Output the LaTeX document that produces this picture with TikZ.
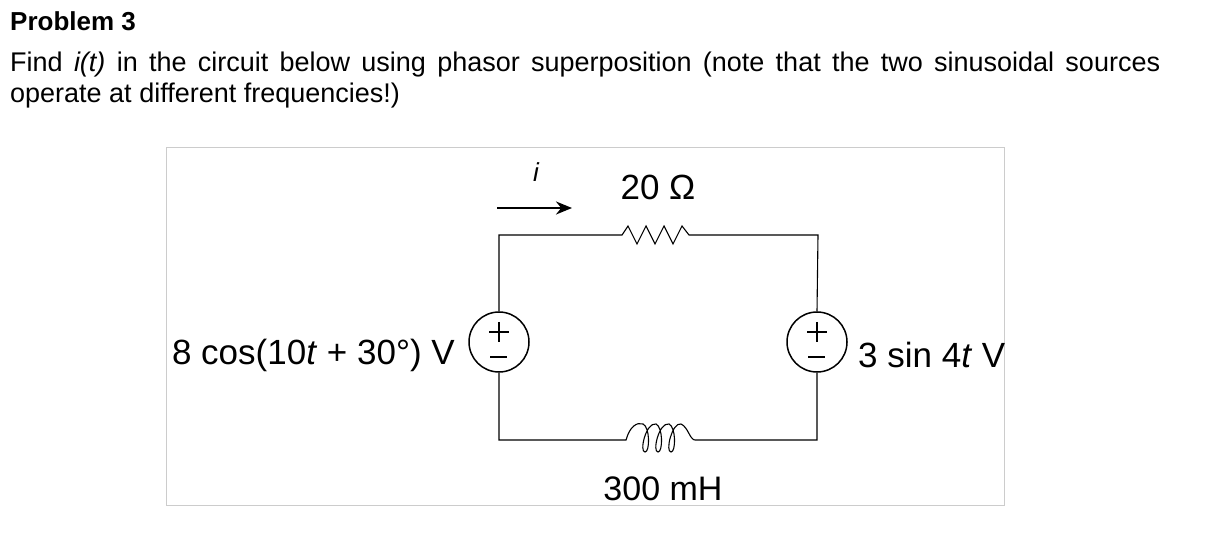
\documentclass[tikz,border=0pt]{standalone}
\usepackage{fontspec}
\setmainfont{Liberation Sans}
\usetikzlibrary{arrows.meta}
\begin{document}
\begin{tikzpicture}[x=1pt,y=-1pt,
  wire/.style={line width=1.1pt},
  lab/.style={font=\fontsize{34}{36}\selectfont, inner sep=0pt},
  src/.style={circle, draw, line width=1.5pt, minimum size=60pt, inner sep=0pt}]
\useasboundingbox (0,0) rectangle (1212,534);
\node[anchor=west, inner sep=0pt, font=\fontsize{26}{30}\selectfont\bfseries] (hdr) at (10,21) {Problem 3};
\node[anchor=north west, inner sep=0pt, text width=1150pt, align=justify, font=\fontsize{27}{31}\selectfont] (txt) at (10,52)
 {\hyphenpenalty=10000\relax Find \textit{i(t)} in the circuit below using phasor superposition (note that the two sinusoidal sources\linebreak operate at different frequencies!)};
\draw[gray!40, line width=0.8pt] (166,147) rectangle (1004,505);
\node[src] (vs1) at (499,342) {};
\node[src] (vs2) at (817,342) {};
\draw[line width=1.7pt] (489,332) -- (509,332) (499,322) -- (499,342) (490,357) -- (507,357);
\draw[line width=1.7pt] (807,332) -- (827,332) (817,322) -- (817,342) (808,357) -- (825,357);
\coordinate (tl) at (499,235); \coordinate (tr) at (818,235);
\coordinate (bl) at (499,440); \coordinate (br) at (817,440);
\coordinate (r1) at (622,235); \coordinate (r2) at (695,235);
\coordinate (l1) at (626,440); \coordinate (l2) at (695,440);
\draw[wire] (vs1.north) -- (tl) -- (r1)
  -- ++(6,-9) -- ++(9,18) -- ++(9,-18) -- ++(9,18) -- ++(9,-18) -- ++(9,18) -- ++(9,-18) -- ++(7,9) -- (r2) -- (tr) -- (vs2.north);
\draw[wire] (vs1.south) -- (bl) -- (l1)
  .. controls (630,426) and (637,422) .. (643,424)
  .. controls (650,427) and (650,452) .. (645,452)
  .. controls (639,452) and (646,422) .. (656,424)
  .. controls (663,427) and (663,452) .. (658,452)
  .. controls (652,452) and (659,422) .. (669,424)
  .. controls (676,427) and (676,452) .. (671,452)
  .. controls (665,452) and (672,422) .. (681,424)
  .. controls (688,427) and (690,440) .. (l2) -- (br) -- (vs2.south);
\coordinate (a1) at (497,208); \coordinate (a2) at (572,208);
\draw[line width=2.4pt, -{Stealth[length=16pt,width=13pt]}] (a1) -- (a2);
\node[lab, font=\fontsize{26}{26}\selectfont\itshape] (i) at (536,172) {i};
\node[lab, font=\fontsize{35}{36}\selectfont] (R) at (658,187) {20 Ω};
\node[lab] (L) at (663,489) {300 mH};
\node[lab, anchor=east, font=\fontsize{35}{40}\selectfont] (V1) at (455,355) {8 cos(10\textit{t} + 30°) V};
\node[lab, anchor=west, font=\fontsize{35}{40}\selectfont] (V2) at (858,355) {3 sin 4\textit{t} V};
\end{tikzpicture}
\end{document}
